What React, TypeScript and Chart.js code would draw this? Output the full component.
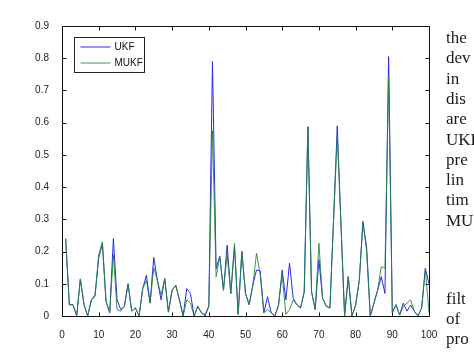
import React, { useEffect, useRef } from 'react';
import { Chart, registerables } from 'chart.js';

Chart.register(...registerables);

// x positions (sample index)
const steps: number[] = [
  1, 2, 3, 4, 5, 6, 7, 8, 9, 10, 11, 12, 13, 14, 15, 16, 17, 18, 19, 20,
  21, 22, 23, 24, 25, 26, 27, 28, 29, 30, 31, 32, 33, 34, 35, 36, 37, 38, 39, 40,
  41, 42, 43, 44, 45, 46, 47, 48, 49, 50, 51, 52, 53, 54, 55, 56, 57, 58, 59, 60,
  61, 62, 63, 64, 65, 66, 67, 68, 69, 70, 71, 72, 73, 74, 75, 76, 77, 78, 79, 80,
  81, 82, 83, 84, 85, 86, 87, 88, 89, 90, 91, 92, 93, 94, 95, 96, 97, 98, 99, 100,
];

const ukf: number[] = [
  0.24, 0.035, 0.035, 0.0, 0.115, 0.035, 0.0, 0.05, 0.065, 0.18,
  0.225, 0.045, 0.01, 0.24, 0.05, 0.02, 0.03, 0.1, 0.015, 0.025,
  0.0, 0.085, 0.127, 0.04, 0.182, 0.11, 0.05, 0.116, 0.012, 0.08,
  0.095, 0.05, 0.0, 0.085, 0.07, 0.0, 0.03, 0.01, 0.0, 0.03,
  0.79, 0.147, 0.185, 0.08, 0.22, 0.07, 0.215, 0.005, 0.2, 0.07,
  0.035, 0.096, 0.143, 0.14, 0.01, 0.06, 0.01, 0.0, 0.034, 0.143,
  0.05, 0.164, 0.055, 0.035, 0.025, 0.075, 0.588, 0.075, 0.02, 0.175,
  0.055, 0.03, 0.025, 0.3, 0.59, 0.29, 0.0, 0.122, 0.0, 0.034,
  0.11, 0.29, 0.215, 0.0, 0.04, 0.08, 0.122, 0.07, 0.805, 0.01,
  0.035, 0.003, 0.04, 0.015, 0.034, 0.015, 0.0, 0.025, 0.148, 0.1,
];

const mukf: number[] = [
  0.24, 0.035, 0.035, 0.0, 0.115, 0.035, 0.0, 0.05, 0.06, 0.19,
  0.23, 0.045, 0.01, 0.19, 0.02, 0.015, 0.03, 0.1, 0.015, 0.025,
  0.0, 0.085, 0.11, 0.04, 0.15, 0.11, 0.065, 0.116, 0.012, 0.08,
  0.095, 0.05, 0.0, 0.05, 0.04, 0.0, 0.03, 0.01, 0.005, 0.03,
  0.575, 0.122, 0.185, 0.08, 0.19, 0.07, 0.225, 0.005, 0.2, 0.07,
  0.035, 0.096, 0.195, 0.13, 0.01, 0.02, 0.01, 0.0, 0.034, 0.128,
  0.005, 0.02, 0.05, 0.035, 0.025, 0.075, 0.585, 0.075, 0.02, 0.226,
  0.055, 0.03, 0.025, 0.3, 0.56, 0.29, 0.0, 0.122, 0.0, 0.034,
  0.11, 0.295, 0.2, 0.0, 0.04, 0.08, 0.153, 0.148, 0.743, 0.01,
  0.035, 0.003, 0.03, 0.04, 0.05, 0.015, 0.0, 0.025, 0.145, 0.01,
];

const xTicks: number[] = [0, 10, 20, 30, 40, 50, 60, 70, 80, 90, 100];
const yTicks: number[] = [0, 0.1, 0.2, 0.3, 0.4, 0.5, 0.6, 0.7, 0.8, 0.9];
const seriesNames: string[] = ['UKF', 'MUKF'];

const sideText: string[] = ['the', 'dev', 'in', 'dis', 'are', 'UKF', 'pre', 'lin', 'tim', 'MUKF'];
const sideText2: string[] = ['filt', 'of', 'pro'];

const BLUE = '#2a2ae8';
const GREEN = 'rgba(34,135,52,0.88)';

const framePlugin = {
  id: 'matlabFrame',
  afterDraw(chart: any) {
    const { ctx, chartArea: a, scales } = chart;
    const x = scales.x;
    const y = scales.y;
    ctx.save();
    ctx.strokeStyle = '#111';
    ctx.lineWidth = 1;
    const L = Math.round(a.left) + 0.5;
    const R = Math.round(a.right) + 0.5;
    const T = Math.round(a.top) + 0.5;
    const B = Math.round(a.bottom) + 0.5;
    ctx.beginPath();
    ctx.rect(L, T, R - L, B - T);
    const tl = 4;
    for (const v of xTicks) {
      const px = Math.round(x.getPixelForValue(v)) + 0.5;
      ctx.moveTo(px, B);
      ctx.lineTo(px, B - tl);
      ctx.moveTo(px, T);
      ctx.lineTo(px, T + tl);
    }
    for (const v of yTicks) {
      const py = Math.round(y.getPixelForValue(v)) + 0.5;
      ctx.moveTo(L, py);
      ctx.lineTo(L + tl, py);
      ctx.moveTo(R, py);
      ctx.lineTo(R - tl, py);
    }
    ctx.stroke();

    // legend box
    const bx = L + 12;
    const by = T + 11;
    const bw = 70;
    const bh = 35;
    ctx.fillStyle = '#fff';
    ctx.fillRect(bx, by, bw, bh);
    ctx.strokeStyle = '#222';
    ctx.strokeRect(bx, by, bw, bh);
    ctx.font = '10px "Liberation Sans", Arial, sans-serif';
    ctx.textBaseline = 'middle';
    ctx.textAlign = 'left';
    const ds = chart.data.datasets;
    const rows = [ds[1], ds[0]];
    rows.forEach((d: any, i: number) => {
      const ly = by + 9.5 + i * 16;
      ctx.strokeStyle = d.borderColor;
      ctx.beginPath();
      ctx.moveTo(bx + 6, ly);
      ctx.lineTo(bx + 36, ly);
      ctx.stroke();
      ctx.fillStyle = '#111';
      ctx.fillText(d.label, bx + 40, ly + 0.5);
    });
    ctx.restore();
  },
};

export default function App() {
  const ref = useRef<HTMLCanvasElement | null>(null);

  useEffect(() => {
    if (!ref.current) return;
    const chart = new Chart(ref.current, {
      type: 'line',
      data: {
        datasets: [
          {
            label: seriesNames[1],
            data: steps.map((s, i) => ({ x: s, y: mukf[i] })),
            borderColor: GREEN,
            borderWidth: 1,
            pointRadius: 0,
            tension: 0,
            fill: false,
            order: 0,
          },
          {
            label: seriesNames[0],
            data: steps.map((s, i) => ({ x: s, y: ukf[i] })),
            borderColor: BLUE,
            borderWidth: 1,
            pointRadius: 0,
            tension: 0,
            fill: false,
            order: 1,
          },
        ],
      },
      options: {
        responsive: false,
        animation: false,
        devicePixelRatio: 1,
        layout: { padding: { left: 0, top: 26, right: 45, bottom: 0 } },
        plugins: { legend: { display: false }, tooltip: { enabled: false } },
        scales: {
          x: {
            type: 'linear',
            min: 0,
            max: 100,
            grid: { display: false },
            border: { display: false },
            afterBuildTicks: (s: any) => {
              s.ticks = xTicks.map((v) => ({ value: v }));
            },
            afterFit: (s: any) => {
              s.height = 39;
            },
            ticks: {
              padding: 5,
              color: '#222',
              font: { family: '"Liberation Sans", Arial, sans-serif', size: 10 },
              maxRotation: 0,
              callback: (v: any) => String(v),
            },
          },
          y: {
            type: 'linear',
            min: 0,
            max: 0.9,
            grid: { display: false },
            border: { display: false },
            afterBuildTicks: (s: any) => {
              s.ticks = yTicks.map((v) => ({ value: v }));
            },
            afterFit: (s: any) => {
              s.width = 62;
            },
            ticks: {
              padding: 5,
              color: '#222',
              font: { family: '"Liberation Sans", Arial, sans-serif', size: 10 },
              callback: (v: any) => String(Number(Number(v).toFixed(1))),
            },
          },
        },
      },
      plugins: [framePlugin],
    });
    return () => chart.destroy();
  }, []);

  const textStyle: React.CSSProperties = {
    position: 'absolute',
    left: 446,
    fontFamily: '"Liberation Serif", "DejaVu Serif", serif',
    fontSize: 17,
    lineHeight: '20px',
    color: '#1a1a1a',
    whiteSpace: 'nowrap',
  };

  return (
    <div
      style={{
        position: 'fixed',
        left: 0,
        top: 0,
        width: 474,
        height: 355,
        overflow: 'hidden',
        background: '#fff',
      }}
    >
      <canvas ref={ref} width={474} height={355} style={{ position: 'absolute', left: 0, top: 0 }} />
      {sideText.map((t, i) => (
        <div key={'a' + i} style={{ ...textStyle, top: 28 + i * 20.3 }}>
          {t}
        </div>
      ))}
      {sideText2.map((t, i) => (
        <div key={'b' + i} style={{ ...textStyle, top: 289 + i * 20 }}>
          {t}
        </div>
      ))}
    </div>
  );
}
